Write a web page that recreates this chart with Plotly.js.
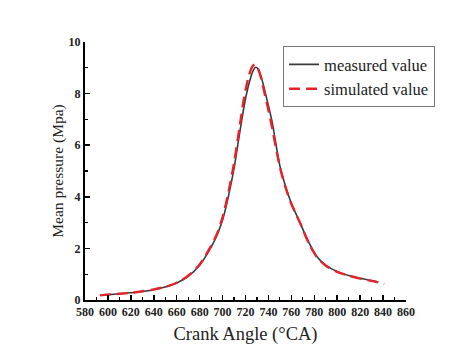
<!DOCTYPE html>
<html>
<head>
<meta charset="utf-8">
<script src="https://cdn.plot.ly/plotly-3.0.1.min.js"></script>
<style>html,body{margin:0;padding:0;background:#fff;}#chart{width:474px;height:363px;}</style>
</head>
<body>
<div id="chart"></div>
<script>
// Measured in-cylinder mean pressure (Mpa) vs crank angle (°CA)
var measuredAngle = [597,600,610,620,630,640,650,660,670,680,690,695,700,705,710,715,720,724,727,729,731,734,738,743,750,755,760,768,775,782,790,800,810,820,830,836];
var measuredPressure = [0.2,0.21,0.24,0.28,0.33,0.4,0.5,0.66,0.92,1.35,2.05,2.5,3.1,4.0,5.1,6.5,7.8,8.55,8.92,9.02,8.95,8.6,7.9,6.95,5.2,4.4,3.75,2.95,2.25,1.7,1.35,1.1,0.95,0.84,0.75,0.7];
// Simulated
var simulatedAngle = [593,600,610,620,630,640,650,660,670,680,690,695,700,705,710,715,719,723,726,728,730,733,737,742,750,755,760,768,775,782,790,800,810,820,830,841];
var simulatedPressure = [0.18,0.21,0.24,0.28,0.34,0.41,0.51,0.67,0.94,1.38,2.1,2.55,3.2,4.15,5.3,6.75,7.9,8.7,9.05,9.12,9.05,8.7,7.95,6.95,5.15,4.35,3.72,2.95,2.22,1.68,1.33,1.09,0.94,0.83,0.74,0.62];
var seriesNames = ["measured value", "simulated value"];

var serif = "Liberation Serif, Times New Roman, serif";

var traces = [
  {x: measuredAngle, y: measuredPressure, name: seriesNames[0], type: "scatter", mode: "lines",
   line: {color: "#3a3a3a", width: 1.6, shape: "spline", smoothing: 0.8}},
  {x: simulatedAngle, y: simulatedPressure, name: seriesNames[1], type: "scatter", mode: "lines",
   line: {color: "#e8212b", width: 2.4, dash: "11px,6px", shape: "spline", smoothing: 0.8}}
];

var layout = {
  width: 474, height: 363,
  margin: {l: 85, r: 68, t: 42, b: 63, pad: 0},
  paper_bgcolor: "#fff", plot_bgcolor: "#fff",
  showlegend: true,
  legend: {x: 0.617, y: 0.984, xanchor: "left", yanchor: "top",
    bgcolor: "#fff", bordercolor: "#777", borderwidth: 1,
    font: {family: serif, size: 16.5, color: "#222"}, tracegroupgap: 0},
  xaxis: {
    range: [580, 860], tick0: 580, dtick: 20,
    showgrid: false, zeroline: false,
    showline: true, linecolor: "#000", linewidth: 2,
    ticks: "inside", ticklen: 5, tickwidth: 1.5, tickcolor: "#000",
    minor: {ticks: "inside", ticklen: 3, tickwidth: 1.2, tickcolor: "#000", dtick: 10, showgrid: false},
    tickfont: {family: serif, size: 12, color: "#222", weight: "bold"},
    title: {text: "Crank Angle (°CA)", font: {family: serif, size: 18.5, color: "#222"}, standoff: 9}
  },
  yaxis: {
    range: [0, 10], tick0: 0, dtick: 2,
    showgrid: false, zeroline: false,
    showline: true, linecolor: "#000", linewidth: 2,
    ticks: "inside", ticklen: 5, tickwidth: 1.5, tickcolor: "#000",
    minor: {ticks: "inside", ticklen: 3, tickwidth: 1.2, tickcolor: "#000", dtick: 1, showgrid: false},
    tickfont: {family: serif, size: 12, color: "#222", weight: "bold"},
    title: {text: "Mean pressure (Mpa)", font: {family: serif, size: 15.5, color: "#222"}, standoff: 1}
  }
};

Plotly.newPlot("chart", traces, layout, {displayModeBar: false, staticPlot: true});
</script>
</body>
</html>
